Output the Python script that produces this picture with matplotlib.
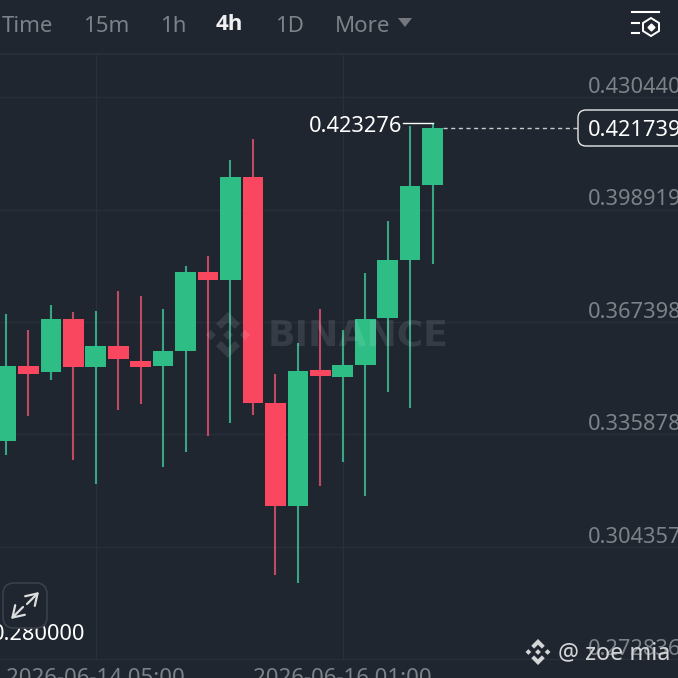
import matplotlib
matplotlib.use("Agg")
import matplotlib.pyplot as plt
from matplotlib.patches import FancyBboxPatch, Polygon

plt.rcParams['font.family'] = ['Noto Sans', 'DejaVu Sans']

# candles, oldest first
opens = [0.33405, 0.35507, 0.35339, 0.36810, 0.35465, 0.36081, 0.35647, 0.35493, 0.35927, 0.38127,
         0.37917, 0.40802, 0.34470, 0.31584, 0.35395, 0.35199, 0.35535, 0.36852, 0.38477, 0.40578]
highs = [0.36964, 0.36516, 0.37216, 0.37020, 0.37048, 0.37608, 0.37468, 0.37104, 0.38309, 0.38589,
         0.41279, 0.41867, 0.35283, 0.36151, 0.37104, 0.36516, 0.38113, 0.39570, 0.42245, 0.423276]
lows = [0.33013, 0.34106, 0.35115, 0.32873, 0.32201, 0.34274, 0.34442, 0.32677, 0.33097, 0.33546,
        0.33910, 0.34134, 0.29651, 0.29427, 0.32145, 0.32817, 0.31864, 0.34778, 0.34330, 0.38365]
closes = [0.35507, 0.35283, 0.36824, 0.35479, 0.36067, 0.35703, 0.35479, 0.35927, 0.38141, 0.37917,
          0.40802, 0.34470, 0.31584, 0.35367, 0.35227, 0.35535, 0.36824, 0.38477, 0.40550, 0.421739]

price_ticks = [0.430440, 0.398919, 0.367398, 0.335878, 0.304357, 0.272836]
price_labels = ['0.430440', '0.398919', '0.367398', '0.335878', '0.304357', '0.272836']
time_ticks = [4, 15]
time_labels = ['2026-06-14 05:00', '2026-06-16 01:00']
intervals = ['Time', '15m', '1h', '4h', '1D', 'More']
interval_x = [2, 83, 160, 216, 275, 335]

last_price = 0.421739
last_label = '0.421739'
high_label = '0.423276'
low_label = '0.280000'

BG = '#1f2630'
GRID = '#2a303a'
GREEN = '#2ebd85'
RED = '#f9475f'
GREEN_WICK = '#37a783'
RED_WICK = '#c04a60'
GREY = '#7d8288'
LABEL_SIZE = 15.7


def binance_logo(axes, cx, cy, r, color, alpha=1.0, zorder=8):
    # the four-way diamond mark, r is the distance from centre to tip
    top = [(0, -1), (0.52, -0.48), (0.3, -0.26), (0, -0.56), (-0.3, -0.26), (-0.52, -0.48)]
    bottom = [(x, -y) for x, y in top]
    middle = [(0, -0.22), (0.22, 0), (0, 0.22), (-0.22, 0)]
    left = [(x - 0.74, y) for x, y in middle]
    right = [(x + 0.74, y) for x, y in middle]
    for shape in [top, bottom, middle, left, right]:
        pts = [(cx + x * r, cy + y * r) for x, y in shape]
        axes.add_patch(Polygon(pts, closed=True, fc=color, ec='none', alpha=alpha, zorder=zorder))


fig = plt.figure(figsize=(6.78, 6.78), dpi=100, facecolor=BG)

ax = fig.add_axes([0, 0, 1, 1], facecolor=BG)
ax.set_xlim(-0.267, 29.933)
ax.set_ylim(0.26765, 0.45762)
ax.axis('off')

# overlay in pixel coordinates for the app chrome
ui = fig.add_axes([0, 0, 1, 1], facecolor='none')
ui.set_xlim(0, 678)
ui.set_ylim(678, 0)
ui.axis('off')
ui.set_zorder(ax.get_zorder() + 1)

# grid
for p in price_ticks:
    ax.axhline(p, color=GRID, lw=1, zorder=1)
for t in time_ticks:
    ax.plot([t, t], [price_ticks[-1], 0.44258], color=GRID, lw=1, zorder=1)
ax.axhline(0.44258, color=GRID, lw=1.2, zorder=1)

# candles
for i in range(len(opens)):
    up = closes[i] >= opens[i]
    ax.vlines(i, lows[i], highs[i], color=GREEN_WICK if up else RED_WICK, lw=1.5, zorder=2)
    ax.bar(i, abs(closes[i] - opens[i]), bottom=min(opens[i], closes[i]), width=0.92,
           color=GREEN if up else RED, zorder=3)

# watermark over the candles, faint
binance_logo(ui, 228, 335, 23, 'white', alpha=0.1, zorder=1)
ui.text(268, 336, 'BINANCE', color='white', alpha=0.1, fontsize=26, family='DejaVu Sans',
        fontweight='bold', va='center', ha='left', zorder=1)

# price axis labels
for p, lab in zip(price_ticks, price_labels):
    ax.annotate(lab, xy=(588 / 678, p), xycoords=('axes fraction', 'data'), xytext=(0, 7),
                textcoords='offset points', color=GREY, fontsize=LABEL_SIZE, va='center', ha='left', zorder=4)

# time axis labels
for t, lab in zip(time_ticks, time_labels):
    ax.annotate(lab, xy=(t, price_ticks[-1]), xytext=(0, -6), textcoords='offset points',
                color=GREY, fontsize=16, va='top', ha='center', zorder=4)

# last price line and box
ax.plot([19.47, 25.43], [last_price, last_price], color='#c8cacc', lw=1, ls=(0, (3, 2.5)), zorder=4)
ui.add_patch(FancyBboxPatch((584, 116), 110, 24, boxstyle='round,pad=6,rounding_size=8',
                            fc=BG, ec='#e8e8e8', lw=1, zorder=5))
ui.text(588, 130, last_label, color='white', fontsize=LABEL_SIZE, va='center', ha='left', zorder=6)

# high / low markers
ax.plot([17.68, 19], [highs[-1], highs[-1]], color='white', lw=1, zorder=4)
ui.text(402, 126, high_label, color='white', fontsize=LABEL_SIZE, va='center', ha='right', zorder=6)
ui.text(85, 635, low_label, color='white', fontsize=LABEL_SIZE, va='center', ha='right', zorder=6)

# top bar
for x, lab in zip(interval_x, intervals):
    if lab == '4h':
        ui.text(x, 25, lab, color='#f0f0f0', fontsize=16, family='Open Sans', fontweight='bold',
                va='center', ha='left')
    else:
        ui.text(x, 26, lab, color=GREY, fontsize=16, va='center', ha='left')
ui.add_patch(Polygon([[398, 18], [412, 18], [405, 27]], closed=True, fc='#74787e', ec='none'))

# settings icon
ui.plot([632, 659], [12, 12], color='white', lw=1.5)
ui.plot([632, 639], [23, 23], color='white', lw=1.5)
ui.plot([632, 639], [33, 33], color='white', lw=1.5)
ui.add_patch(Polygon([[651, 18], [659, 23], [659, 31], [651, 36], [643, 31], [643, 23]], closed=True,
                     fc='none', ec='white', lw=1.4))
ui.plot([651], [27], marker='D', ms=3.5, color='white')

# fullscreen button
ui.add_patch(FancyBboxPatch((10, 590), 30, 31, boxstyle='round,pad=7,rounding_size=11',
                            fc=BG, ec='#3a4049', lw=1.2, zorder=7))
arrow = dict(arrowstyle='->,head_length=0.55,head_width=0.35', color='#dddddd', lw=1.6,
             mutation_scale=14, shrinkA=0, shrinkB=0)
ui.annotate('', xy=(39, 592), xytext=(27, 604), arrowprops=arrow, zorder=8)
ui.annotate('', xy=(11, 619), xytext=(23, 607), arrowprops=arrow, zorder=8)

# bottom right tag
tag = '#d4d5d7'
binance_logo(ui, 538, 652, 13, tag, zorder=8)
ui.text(558, 653, '@ zoe mia', color=tag, fontsize=16.8, va='center', ha='left', zorder=8)

fig.savefig('out.png', dpi=100, facecolor=BG)
